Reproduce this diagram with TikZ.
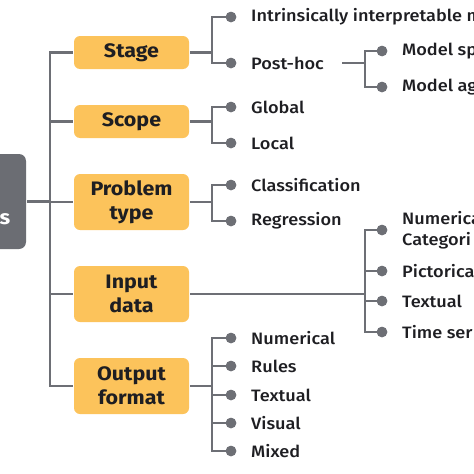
\documentclass[tikz,border=0pt]{standalone}
\usepackage{fontspec}
\setmainfont{Fira Sans Medium}[BoldFont={Fira Sans Bold},FakeStretch=1.1]
\definecolor{boxyellow}{HTML}{FCC35B}
\definecolor{linegray}{HTML}{6D6F75}
\definecolor{rootgray}{HTML}{6B6D73}
\definecolor{inkdark}{HTML}{1E1E22}
\begin{document}
\begin{tikzpicture}[x=1pt,y=-1pt,line width=2.4pt,
  root node/.style={fill=rootgray,rounded corners=7pt,minimum width=52pt,minimum height=95pt,inner sep=0pt},
  root text/.style={text=white,font=\bfseries\fontsize{20}{24}\selectfont,inner sep=0pt},
  cat node/.style={fill=boxyellow,rounded corners=6pt,minimum width=115pt,inner sep=0pt,align=center,text=inkdark,font=\bfseries\fontsize{19.5}{24}\selectfont},
  dot node/.style={circle,fill=linegray,inner sep=0pt,minimum size=10.5pt},
  leaf node/.style={anchor=west,inner sep=0pt,align=left,text=inkdark,font=\fontsize{16.5}{21}\selectfont},
  conn/.style={draw=linegray}]

  \useasboundingbox (0,0) rectangle (474,474);
  \clip (0,0) rectangle (474,474);

  % root
  \node[root node] at (0,201.5) (root) {};
  \node[root text] at (5,219) (rootlabel) {s};

  % categories
  \node[cat node,minimum height=33pt] at (131.5,52.5) (stage) {Stage};
  \node[cat node,minimum height=33pt] at (131.5,121.5) (scope) {Scope};
  \node[cat node,minimum height=56pt] at (131.5,202) (ptype) {Problem\\type};
  \node[cat node,minimum height=56pt] at (131.5,294) (indata) {Input\\data};
  \node[cat node,minimum height=56pt] at (131.5,386) (outfmt) {Output\\format};

  \coordinate (trunk) at (50,0);
  \coordinate (fork) at (212,0);
  \coordinate (subfork) at (365,0);

  % first level leaves
  \foreach \name/\y/\txt in {intr/17/Intrinsically interpretable m,
                             posthoc/63/Post-hoc,
                             global/107/Global,
                             local/143/Local,
                             classif/185/Classification,
                             regr/221/Regression,
                             onum/338/Numerical,
                             orules/366/Rules,
                             otext/395/Textual,
                             ovis/423/Visual,
                             omix/451/Mixed}{
    \node[dot node] at (231,\y) (d\name) {};
    \node[leaf node] at (250,\y) (\name) {\txt};
  }

  % second level leaves
  \foreach \name/\y/\txt in {mspec/51/Model sp,
                             magn/87/Model ag,
                             inum/230/Numerica\\Categori,
                             ipict/271/Pictorica,
                             itext/301/Textual,
                             itime/332/Time ser}{
    \node[dot node] at (382,\y) (d\name) {};
    \node[leaf node] at (401,\y) (\name) {\txt};
  }

  \coordinate (phstart) at (342,63);

  % trunk
  \begin{scope}[conn]
    \draw (root.east) -- (root.east -| trunk);
    \draw (stage.west) -- (stage.west -| trunk) -- (outfmt.west -| trunk) -- (outfmt.west);
    \draw (scope.west) -- (scope.west -| trunk);
    \draw (ptype.west) -- (ptype.west -| trunk);
    \draw (indata.west) -- (indata.west -| trunk);

    % brackets
    \draw (stage.east) -- (stage.east -| fork);
    \draw (dintr.center) -- (dintr.center -| fork) -- (dposthoc.center -| fork) -- (dposthoc.center);
    \draw (scope.east) -- (scope.east -| fork);
    \draw (dglobal.center) -- (dglobal.center -| fork) -- (dlocal.center -| fork) -- (dlocal.center);
    \draw (ptype.east) -- (ptype.east -| fork);
    \draw (dclassif.center) -- (dclassif.center -| fork) -- (dregr.center -| fork) -- (dregr.center);
    \draw (outfmt.east) -- (outfmt.east -| fork);
    \draw (donum.center) -- (donum.center -| fork) -- (domix.center -| fork) -- (domix.center);
    \foreach \n in {orules,otext,ovis}
      \draw (d\n.center) -- (d\n.center -| fork);

    \draw (phstart) -- (phstart -| subfork);
    \draw (dmspec.center) -- (dmspec.center -| subfork) -- (dmagn.center -| subfork) -- (dmagn.center);
    \draw (indata.east) -- (indata.east -| subfork);
    \draw (dinum.center) -- (dinum.center -| subfork) -- (ditime.center -| subfork) -- (ditime.center);
    \foreach \n in {ipict,itext}
      \draw (d\n.center) -- (d\n.center -| subfork);
  \end{scope}

  % dots on top
  \foreach \n in {intr,posthoc,global,local,classif,regr,onum,orules,otext,ovis,omix,mspec,magn,inum,ipict,itext,itime}
    \node[dot node] at (d\n) {};
\end{tikzpicture}
\end{document}
